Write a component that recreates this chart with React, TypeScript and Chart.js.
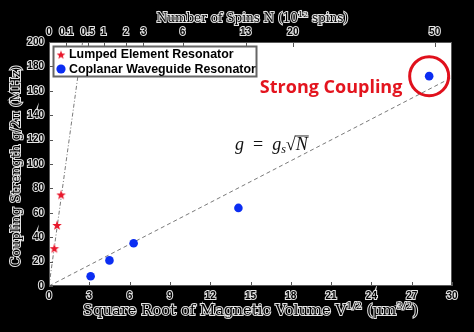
import React, { useEffect, useRef } from 'react';
import { Chart, registerables } from 'chart.js';
Chart.register(...registerables);

// ---- data ----
const lumpedX = [0.4, 0.6, 0.9];
const lumpedY = [31, 50, 75];
const cpwX = [3.1, 4.5, 6.3, 14.1, 28.3];
const cpwY = [8, 21, 35, 64, 172];
const lumpedFitX = [0, 2.5];
const lumpedFitY = [0, 200];
const cpwFitX = [0, 30];
const cpwFitY = [0, 171];
const spinsN = [0, 0.1, 0.5, 1, 2, 3, 6, 13, 20, 50];
const spinsLabels = ['0', '0.1', '0.5', '1', '2', '3', '6', '13', '20', '50'];
const sqrtVolPerSqrtSpins = 4.06;
const xMin = 0, xMax = 30, xStep = 3;
const yMin = 0, yMax = 200, yStep = 20;
const seriesNames = ['Lumped Element Resonator', 'Coplanar Waveguide Resonator'];
const strongLabel = 'Strong Coupling';
const strongLabelPos = { x: 21, y: 162 };
const formulaPos = { x: 13.85, y: 111.5 };

const RED = '#e8172b';
const BLUE = '#0b2df2';

function makeStar(r: number, color: string) {
  const c = document.createElement('canvas');
  const size = Math.ceil(r * 2 + 2);
  c.width = size; c.height = size;
  const g = c.getContext('2d')!;
  g.beginPath();
  for (let i = 0; i < 10; i++) {
    const a = -Math.PI / 2 + (i * Math.PI) / 5;
    const rad = i % 2 ? r * 0.42 : r;
    const px = size / 2 + rad * Math.cos(a);
    const py = size / 2 + 0.6 + rad * Math.sin(a);
    if (i === 0) g.moveTo(px, py); else g.lineTo(px, py);
  }
  g.closePath();
  g.fillStyle = color;
  g.fill();
  return c;
}

function hollow(ctx: CanvasRenderingContext2D, text: string, x: number, y: number) {
  ctx.lineWidth = 2;
  ctx.strokeStyle = '#e4e4e4';
  ctx.strokeText(text, x, y);
  ctx.fillStyle = '#000';
  ctx.fillText(text, x, y);
}

type Seg = { t: string; sup?: boolean };
function drawRich(ctx: CanvasRenderingContext2D, segs: Seg[], cx: number, y: number, size: number, family: string) {
  const supSize = Math.round(size * 0.65);
  let w = 0;
  for (const s of segs) {
    ctx.font = `${s.sup ? supSize : size}px ${family}`;
    w += ctx.measureText(s.t).width;
  }
  let x = cx - w / 2;
  ctx.textAlign = 'left';
  ctx.textBaseline = 'alphabetic';
  for (const s of segs) {
    ctx.font = `${s.sup ? supSize : size}px ${family}`;
    hollow(ctx, s.t, x, s.sup ? y - size * 0.42 : y);
    x += ctx.measureText(s.t).width;
  }
}

export default function App() {
  const ref = useRef<HTMLCanvasElement>(null);
  useEffect(() => {
    const star = makeStar(5, RED);
    const legendStar = makeStar(4.6, RED);
    const decor = {
      id: 'decor',
      beforeDraw(chart: any) {
        const { ctx, chartArea: a } = chart;
        ctx.save();
        ctx.fillStyle = '#000';
        ctx.fillRect(0, 0, chart.width, chart.height);
        ctx.fillStyle = '#fff';
        ctx.fillRect(a.left, a.top, a.right - a.left, a.bottom - a.top);
        ctx.restore();
      },
      afterDraw(chart: any) {
        const { ctx, chartArea: a, scales } = chart;
        ctx.save();
        // inner ticks
        ctx.strokeStyle = '#555';
        ctx.lineWidth = 1;
        ctx.beginPath();
        for (const t of scales.x.ticks) {
          const p = Math.round(scales.x.getPixelForValue(t.value)) + 0.5;
          ctx.moveTo(p, a.bottom); ctx.lineTo(p, a.bottom - 4);
        }
        for (const t of scales.x2.ticks) {
          const p = Math.round(scales.x2.getPixelForValue(t.value)) + 0.5;
          ctx.moveTo(p, a.top); ctx.lineTo(p, a.top + 5);
        }
        for (const t of scales.y.ticks) {
          const p = Math.round(scales.y.getPixelForValue(t.value)) + 0.5;
          ctx.moveTo(a.left, p); ctx.lineTo(a.left + 4, p);
        }
        ctx.stroke();
        // border
        ctx.strokeStyle = '#5a5a5a';
        ctx.strokeRect(a.left + 0.5, a.top + 0.5, a.right - a.left - 1, a.bottom - a.top - 1);

        // titles
        const cx = (a.left + a.right) / 2;
        drawRich(ctx, [{ t: 'Square Root of Magnetic Volume V' }, { t: '1/2', sup: true }, { t: ' (μm' }, { t: '3/2', sup: true }, { t: ')' }], cx, 315, 14.8, '"DejaVu Serif"');
        drawRich(ctx, [{ t: 'Number of Spins N (10' }, { t: '12', sup: true }, { t: ' spins)' }], cx + 2, 22, 12, '"DejaVu Serif"');
        ctx.save();
        ctx.translate(19.5, (a.top + a.bottom) / 2 + 2);
        ctx.rotate(-Math.PI / 2);
        drawRich(ctx, [{ t: 'Coupling Strength g/2π (MHz)' }], 0, 0, 13, '"DejaVu Serif"');
        ctx.restore();

        // legend
        const lx = a.left + 4, ly = a.top + 4, lw = 204, lh = 31;
        ctx.fillStyle = '#fff';
        ctx.fillRect(lx, ly, lw, lh);
        ctx.strokeStyle = '#666';
        ctx.strokeRect(lx + 0.5, ly + 0.5, lw - 1, lh - 1);
        ctx.font = 'bold 12.4px "Liberation Sans"';
        ctx.fillStyle = '#000';
        ctx.textAlign = 'left';
        ctx.textBaseline = 'middle';
        ctx.drawImage(legendStar, lx + 8 - legendStar.width / 2, ly + 8.5 - legendStar.height / 2);
        ctx.fillText(seriesNames[0], lx + 16, ly + 9);
        ctx.beginPath();
        ctx.fillStyle = BLUE;
        ctx.arc(lx + 8, ly + 23, 4.6, 0, Math.PI * 2);
        ctx.fill();
        ctx.fillStyle = '#000';
        ctx.fillText(seriesNames[1], lx + 16, ly + 23.5);

        // strong coupling annotation
        const sx = scales.x.getPixelForValue(cpwX[cpwX.length - 1]);
        const sy = scales.y.getPixelForValue(cpwY[cpwY.length - 1]);
        ctx.beginPath();
        ctx.strokeStyle = '#e0101c';
        ctx.lineWidth = 3;
        ctx.arc(sx, sy, 19.5, 0, Math.PI * 2);
        ctx.stroke();
        ctx.font = 'bold 18px "Open Sans"';
        ctx.fillStyle = '#e3141e';
        ctx.textAlign = 'center';
        ctx.textBaseline = 'middle';
        ctx.fillText(strongLabel, scales.x.getPixelForValue(strongLabelPos.x), scales.y.getPixelForValue(strongLabelPos.y));

        // formula g = g_s sqrt(N)
        let fx = scales.x.getPixelForValue(formulaPos.x);
        const fy = scales.y.getPixelForValue(formulaPos.y);
        ctx.fillStyle = '#111';
        ctx.textAlign = 'left';
        ctx.textBaseline = 'alphabetic';
        const it = 'italic 18px "Liberation Serif"';
        const rg = '18px "Liberation Serif"';
        const parts: [string, string, number][] = [
          ['g', it, 0], ['  =  ', rg, 0], ['g', it, 0], ['s', 'italic 12px "Liberation Serif"', 3], ['√', rg, 0],
        ];
        for (const [t, f, dy] of parts) {
          ctx.font = f;
          ctx.fillText(t, fx, fy + dy);
          fx += ctx.measureText(t).width;
        }
        ctx.font = it;
        const nW = ctx.measureText('N').width;
        ctx.fillText('N', fx, fy);
        ctx.strokeStyle = '#111';
        ctx.lineWidth = 0.9;
        ctx.beginPath();
        ctx.moveTo(fx - 1, fy - 14);
        ctx.lineTo(fx + nW + 1, fy - 14);
        ctx.stroke();
        ctx.restore();
      },
    };

    const pts = (xs: number[], ys: number[]) => xs.map((x, i) => ({ x, y: ys[i] }));
    const tickFont = { family: '"Liberation Sans"', size: 10, weight: 'bold' as const };
    const tickStyle = { color: '#000', textStrokeColor: '#e4e4e4', textStrokeWidth: 2, font: tickFont };
    const noGrid = { display: false, drawTicks: false, tickLength: 0 };

    const chart = new Chart(ref.current!, {
      type: 'scatter',
      data: {
        datasets: [
          { label: 'fitLumped', type: 'line', data: pts(lumpedFitX, lumpedFitY), borderColor: '#7a7a7a', borderWidth: 1, borderDash: [4, 2, 1, 2], pointRadius: 0, showLine: true, fill: false, order: 3 },
          { label: 'fitCpw', type: 'line', data: pts(cpwFitX, cpwFitY), borderColor: '#7a7a7a', borderWidth: 1, borderDash: [4, 3], pointRadius: 0, showLine: true, fill: false, order: 3 },
          { label: seriesNames[0], data: pts(lumpedX, lumpedY), pointStyle: star, pointRadius: 5, backgroundColor: RED, borderColor: RED, order: 1 },
          { label: seriesNames[1], data: pts(cpwX, cpwY), pointStyle: 'circle', pointRadius: 4.3, backgroundColor: BLUE, borderColor: BLUE, borderWidth: 0, order: 1 },
        ] as any,
      },
      options: {
        responsive: false,
        animation: false,
        devicePixelRatio: 1,
        layout: { padding: { left: 0, right: 22, top: 0, bottom: 0 } },
        plugins: { legend: { display: false }, tooltip: { enabled: false } },
        scales: {
          x: {
            type: 'linear', position: 'bottom', min: xMin, max: xMax,
            ticks: { ...tickStyle, stepSize: xStep, padding: 4 },
            grid: noGrid, border: { display: false },
            afterFit: (s: any) => { s.height = 46; },
          },
          x2: {
            type: 'linear', position: 'top', min: xMin, max: xMax,
            ticks: { ...tickStyle, autoSkip: false, maxRotation: 0, padding: 4, callback: (_v: any, i: number) => spinsLabels[i] },
            afterBuildTicks: (s: any) => { s.ticks = spinsN.map((n) => ({ value: sqrtVolPerSqrtSpins * Math.sqrt(n) })); },
            grid: noGrid, border: { display: false },
            afterFit: (s: any) => { s.height = 42; },
          },
          y: {
            type: 'linear', position: 'left', min: yMin, max: yMax,
            ticks: { ...tickStyle, stepSize: yStep, padding: 5 },
            grid: noGrid, border: { display: false },
            afterFit: (s: any) => { s.width = 49; },
          },
        },
      } as any,
      plugins: [decor],
    });
    return () => chart.destroy();
  }, []);

  return (
    <div style={{ position: 'fixed', left: 0, top: 0, width: 474, height: 332, background: '#000' }}>
      <canvas ref={ref} width={474} height={332} style={{ display: 'block' }} />
    </div>
  );
}
